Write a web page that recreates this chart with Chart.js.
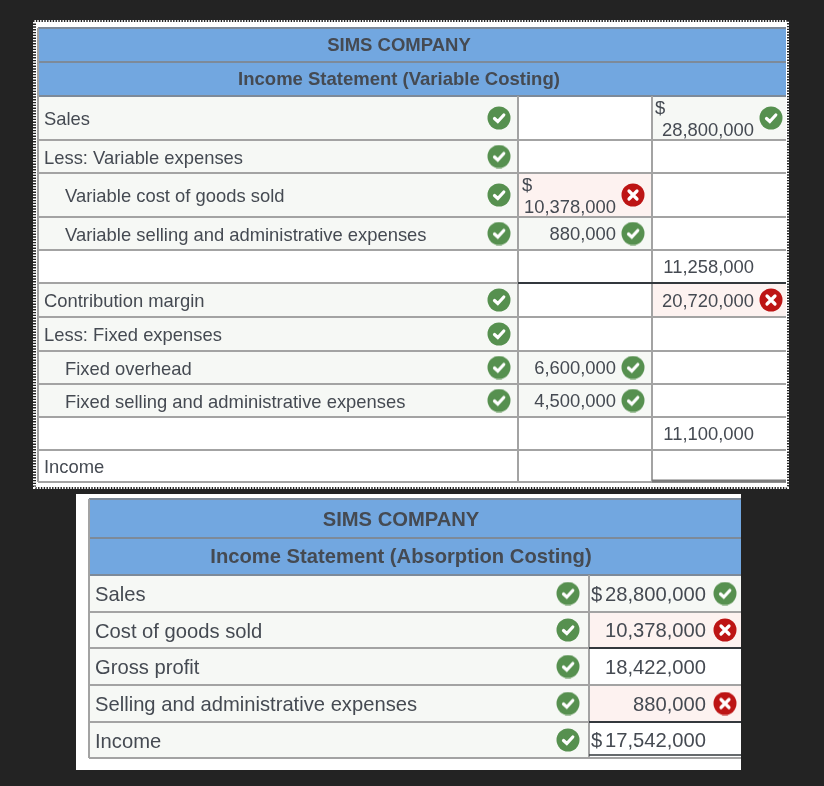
<!DOCTYPE html>
<html>
<head>
<meta charset="utf-8">
<title>Sims Company income statements</title>
<script src="https://cdn.jsdelivr.net/npm/chart.js@4"></script>
<style>
  html, body { margin: 0; padding: 0; background: #232323; }
  canvas { display: block; filter: blur(0.4px); }
</style>
</head>
<body>
<canvas id="chart" width="824" height="786"></canvas>
<script>
// values
const companyName = "SIMS COMPANY";

const varTitle = "Income Statement (Variable Costing)";
const varLabels = ["Sales", "Less: Variable expenses", "Variable cost of goods sold", "Variable selling and administrative expenses", "", "Contribution margin", "Less: Fixed expenses", "Fixed overhead", "Fixed selling and administrative expenses", "", "Income"];
const varIndented = [0, 0, 1, 1, 0, 0, 0, 1, 1, 0, 0];
const varInner = [null, null, 10378000, 880000, null, null, null, 6600000, 4500000, null, null];
const varOuter = [28800000, null, null, null, 11258000, 20720000, null, null, null, 11100000, null];
const varLabelMarks = ["ok", "ok", "ok", "ok", null, "ok", "ok", "ok", "ok", null, null];
const varInnerMarks = [null, null, "bad", "ok", null, null, null, "ok", "ok", null, null];
const varOuterMarks = ["ok", null, null, null, null, "bad", null, null, null, null, null];
const varInnerDollar = [0, 0, 1, 0, 0, 0, 0, 0, 0, 0, 0];
const varOuterDollar = [1, 0, 0, 0, 0, 0, 0, 0, 0, 0, 0];

const absTitle = "Income Statement (Absorption Costing)";
const absLabels = ["Sales", "Cost of goods sold", "Gross profit", "Selling and administrative expenses", "Income"];
const absAmounts = [28800000, 10378000, 18422000, 880000, 17542000];
const absLabelMarks = ["ok", "ok", "ok", "ok", "ok"];
const absAmountMarks = ["ok", "bad", null, "bad", null];
const absDollar = [1, 0, 0, 0, 1];

// layout, in picture pixels
const varRowEdges = [96, 140, 173, 217, 250, 283, 317, 351, 384, 417, 450, 482];
const varColEdges = [38, 518, 652, 786];
const varHeadEdges = [28, 62, 96];
const absRowEdges = [575, 612, 648, 685, 722, 758];
const absColEdges = [89, 589, 741];
const absHeadEdges = [499, 538, 575];

const HEAD = "#72a7e0", TINT = "#f6f8f5", WRONG = "#fdf2f0", RULE = "#a3a3a3", HEADRULE = "#7d8a99", INK = "#454a52";
const fmt = v => v.toLocaleString("en-US");

function makeIcon(kind) {
  const c = document.createElement("canvas");
  c.width = 24; c.height = 24;
  const g = c.getContext("2d");
  g.fillStyle = kind === "ok" ? "#56904f" : "#bd1414";
  g.beginPath(); g.arc(12, 12, 11.5, 0, Math.PI * 2); g.fill();
  g.strokeStyle = "#fff"; g.lineWidth = 3.2; g.lineCap = "round";
  g.beginPath();
  if (kind === "ok") {
    g.moveTo(7.5, 12.5); g.lineTo(10.8, 15.5); g.lineTo(16.8, 9);
  } else {
    g.moveTo(8, 8); g.lineTo(16, 16); g.moveTo(16, 8); g.lineTo(8, 16);
  }
  g.stroke();
  return c;
}

const mid = (edges, i) => (edges[i] + edges[i + 1]) / 2;

// one point per mark that is set
function markPoints(kind) {
  const pts = [];
  const add = (marks, x, edges) => marks.forEach((m, i) => { if (m === kind) pts.push({ x: x, y: mid(edges, i) }); });
  add(varLabelMarks, 499, varRowEdges);
  add(varInnerMarks, 633, varRowEdges);
  add(varOuterMarks, 771, varRowEdges);
  add(absLabelMarks, 568, absRowEdges);
  add(absAmountMarks, 725, absRowEdges);
  return pts;
}

const tablePlugin = {
  id: "tablePlugin",
  beforeDatasetsDraw(chart) {
    const ctx = chart.ctx;
    const X = v => chart.scales.x.getPixelForValue(v);
    const Y = v => chart.scales.y.getPixelForValue(v);

    const rect = (x0, y0, x1, y1, color) => {
      ctx.fillStyle = color;
      ctx.fillRect(X(x0), Y(y0), X(x1) - X(x0), Y(y1) - Y(y0));
    };
    const line = (x0, y0, x1, y1, color, w) => {
      ctx.strokeStyle = color; ctx.lineWidth = w;
      ctx.beginPath(); ctx.moveTo(X(x0), Y(y0)); ctx.lineTo(X(x1), Y(y1)); ctx.stroke();
    };
    const text = (s, x, y, font, align) => {
      ctx.fillStyle = INK; ctx.font = font; ctx.textAlign = align; ctx.textBaseline = "middle";
      ctx.fillText(s, X(x), Y(y));
    };

    // white paper behind the two screenshots
    rect(36, 22, 787, 487, "#ffffff");
    rect(76, 494, 741, 770, "#ffffff");

    // dotted selection frame
    ctx.save();
    ctx.setLineDash([1.4, 1.4]);
    ctx.strokeStyle = "#ffffff"; ctx.lineWidth = 3;
    ctx.strokeRect(X(34.5), Y(21.5), X(787.5) - X(34.5), Y(487.5) - Y(21.5));
    ctx.restore();

    // top table
    const F1 = '18.4px "Liberation Sans"', B1 = 'bold 18.5px "Liberation Sans"';
    rect(varColEdges[0], varHeadEdges[0], varColEdges[3], varHeadEdges[2], HEAD);
    varLabels.forEach((s, i) => {
      const y0 = varRowEdges[i], y1 = varRowEdges[i + 1], yc = mid(varRowEdges, i);
      if (s && s !== "Income") rect(varColEdges[0], y0, varColEdges[1], y1, TINT);
      [[varInner, varInnerMarks, 1], [varOuter, varOuterMarks, 2]].forEach(([vals, marks, c]) => {
        if (marks[i] === "ok") rect(varColEdges[c], y0, varColEdges[c + 1], y1, TINT);
        if (marks[i] === "bad") rect(varColEdges[c], y0, varColEdges[c + 1], y1, WRONG);
      });
      if (s) text(s, varIndented[i] ? 65 : 44, yc + 2, F1, "left");
      [[varInner, varInnerDollar, 1, 616, 522], [varOuter, varOuterDollar, 2, 754, 655]].forEach(([vals, dollar, c, right, left]) => {
        if (vals[i] === null) return;
        if (dollar[i]) {
          text("$", left, y0 + 13, F1, "left");
          text(fmt(vals[i]), right, y1 - 9, F1, "right");
        } else {
          text(fmt(vals[i]), right, yc + 1.5, F1, "right");
        }
      });
    });
    text(companyName, 399, 46, B1, "center");
    text(varTitle, 399, 80, B1, "center");
    varHeadEdges.forEach(y => line(varColEdges[0], y, varColEdges[3], y, HEADRULE, 2));
    varRowEdges.slice(1).forEach(y => line(varColEdges[0], y, varColEdges[3], y, RULE, 2));
    varColEdges.slice(1, 3).forEach(x => line(x, varRowEdges[0], x, varRowEdges[11], RULE, 2));
    line(varColEdges[0], varHeadEdges[0], varColEdges[0], varRowEdges[11], RULE, 2);
    line(varColEdges[1], varRowEdges[5], varColEdges[3], varRowEdges[5], "#33383d", 2);
    line(varColEdges[2], varRowEdges[11] - 1, varColEdges[3], varRowEdges[11] - 1, "#7a7a7a", 3);

    // bottom table
    const F2 = '20.2px "Liberation Sans"', B2 = 'bold 20.2px "Liberation Sans"';
    rect(absColEdges[0], absHeadEdges[0], absColEdges[2], absHeadEdges[2], HEAD);
    absLabels.forEach((s, i) => {
      const y0 = absRowEdges[i], y1 = absRowEdges[i + 1], yc = mid(absRowEdges, i);
      rect(absColEdges[0], y0, absColEdges[1], y1, TINT);
      if (absAmountMarks[i] === "ok") rect(absColEdges[1], y0, absColEdges[2], y1, TINT);
      if (absAmountMarks[i] === "bad") rect(absColEdges[1], y0, absColEdges[2], y1, WRONG);
      text(s, 95, yc + 2, F2, "left");
      text(fmt(absAmounts[i]), 706, yc + 1.5, F2, "right");
      if (absDollar[i]) text("$", 591, yc + 1.5, F2, "left");
    });
    text(companyName, 401, 520, B2, "center");
    text(absTitle, 401, 557, B2, "center");
    absHeadEdges.forEach(y => line(absColEdges[0], y, absColEdges[2], y, HEADRULE, 2));
    absRowEdges.slice(1).forEach(y => line(absColEdges[0], y, absColEdges[2], y, RULE, 2));
    line(absColEdges[0], absHeadEdges[0], absColEdges[0], absRowEdges[5], RULE, 2);
    line(absColEdges[1], absRowEdges[0], absColEdges[1], absRowEdges[5], RULE, 2);
    line(absColEdges[1], absRowEdges[2], absColEdges[2], absRowEdges[2], "#33383d", 2);
    line(absColEdges[1], absRowEdges[4], absColEdges[2], absRowEdges[4], "#33383d", 2);
    line(absColEdges[1], absRowEdges[5] - 3, absColEdges[2], absRowEdges[5] - 3, "#33383d", 1.5);
  }
};

new Chart(document.getElementById("chart"), {
  type: "scatter",
  data: {
    datasets: [
      { label: "Correct", data: markPoints("ok"), pointStyle: makeIcon("ok"), pointRadius: 12 },
      { label: "Wrong", data: markPoints("bad"), pointStyle: makeIcon("bad"), pointRadius: 12 }
    ]
  },
  options: {
    responsive: false,
    animation: false,
    devicePixelRatio: 1,
    layout: { padding: 0, autoPadding: false },
    plugins: { legend: { display: false }, tooltip: { enabled: false } },
    scales: {
      x: { type: "linear", display: false, min: 0, max: 824 },
      y: { type: "linear", display: false, min: 0, max: 786, reverse: true }
    }
  },
  plugins: [tablePlugin]
});
</script>
</body>
</html>
